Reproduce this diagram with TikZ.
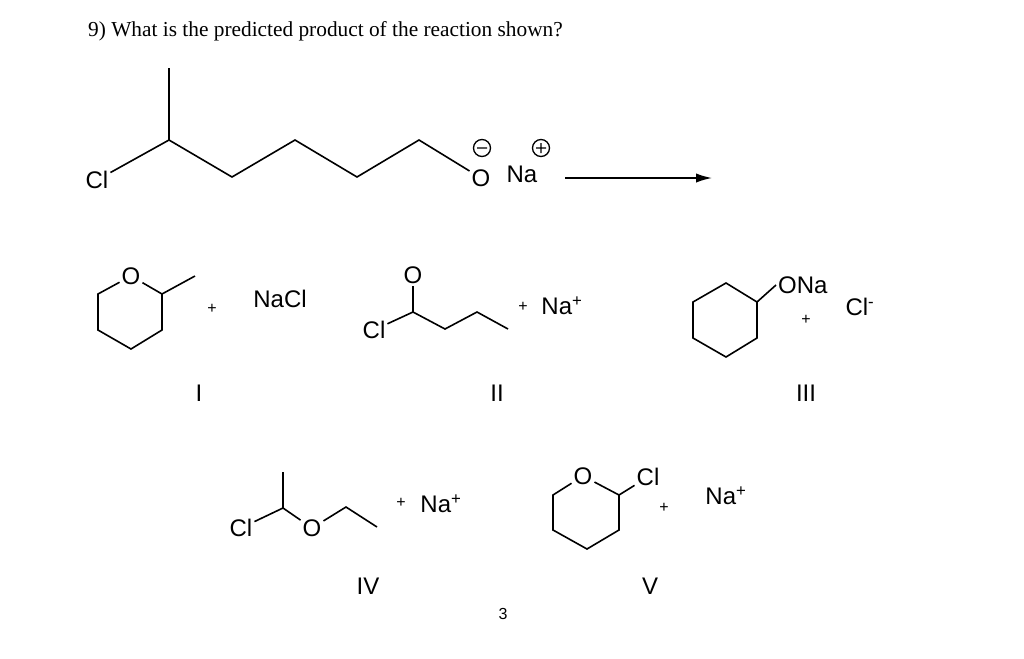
\documentclass[tikz,border=0pt]{standalone}
\usepackage{fontspec}
\usetikzlibrary{arrows.meta}
\setmainfont{Liberation Sans}
\newfontfamily\titlefont{Liberation Serif}
\tikzset{every picture/.style={line width=1.2pt}}
\tikzset{atom/.style={inner sep=1pt, font=\fontsize{18}{20}\selectfont},
  smallplus/.style={font=\fontsize{12}{14}\selectfont},
  numeral/.style={font=\fontsize{18}{20}\selectfont}}
\begin{document}
\begin{tikzpicture}[x=0.75pt,y=0.75pt,yscale=-1,xscale=1]
	\useasboundingbox (0,0) rectangle (1024,658);

	% Text Node
	\node[anchor=west, font=\titlefont\fontsize{16}{18}\selectfont] (title) at (83,31) {9) What is the predicted product of the reaction shown?};

	%Starting material
	\node[atom] (cl0) at (97,180) {Cl};
	\node[atom] (o0) at (481,178) {O};
	\node[atom] (na0) at (522,174) {Na};
	\coordinate (c1) at (169,140); \coordinate (me1) at (169,68);
	\coordinate (c2) at (232,177); \coordinate (c3) at (295,140);
	\coordinate (c4) at (357,177); \coordinate (c5) at (419,140);
	\draw (cl0) -- (c1) -- (c2) -- (c3) -- (c4) -- (c5) -- (o0);
	\draw (c1) -- (me1);
	\draw[line width=1pt] (482,148) circle (8.5) (477,148) -- (487,148);
	\draw[line width=1pt] (541,148) circle (8.5) (536,148) -- (546,148) (541,143) -- (541,153);
	%Arrow
	\coordinate (a1) at (565,178); \coordinate (a2) at (712,178);
	\draw[-{Latex[length=12pt,width=7pt]}] (a1) -- (a2);

	%Answer I
	\node[atom] (o1) at (131,276) {O};
	\coordinate (r1a) at (98,294); \coordinate (r1b) at (98,330);
	\coordinate (r1c) at (131,349); \coordinate (r1d) at (162,330);
	\coordinate (r1e) at (162,294); \coordinate (r1m) at (195,276);
	\draw (o1) -- (r1a) -- (r1b) -- (r1c) -- (r1d) -- (r1e) -- (o1);
	\draw (r1e) -- (r1m);
	\node[smallplus] (p1) at (212,309) {+};
	\node[atom] (nacl) at (280,299) {NaCl};
	\node[numeral] (n1) at (199,393) {I};

	%Answer II
	\node[atom] (o2) at (413,275) {O};
	\node[atom] (cl2) at (374,330) {Cl};
	\coordinate (c21) at (413,312); \coordinate (c22) at (445,329);
	\coordinate (c23) at (477,312); \coordinate (c24) at (508,329);
	\draw (cl2) -- (c21) -- (c22) -- (c23) -- (c24);
	\draw (c21) -- (o2);
	\node[smallplus] (p2) at (523,307) {+};
	\node[atom] (na2) at (562,306) {Na\textsuperscript{+}};
	\node[numeral] (n2) at (497,393) {II};

	%Answer III
	\coordinate (r3a) at (726,283); \coordinate (r3b) at (693,302);
	\coordinate (r3c) at (693,338); \coordinate (r3d) at (726,357);
	\coordinate (r3e) at (757,338); \coordinate (r3f) at (757,302);
	\draw (r3a) -- (r3b) -- (r3c) -- (r3d) -- (r3e) -- (r3f) -- cycle;
	\node[atom, anchor=west] (ona) at (776,285) {ONa};
	\draw (r3f) -- (ona.west);
	\node[smallplus] (p3) at (806,320) {+};
	\node[atom] (cl3) at (860,307) {Cl\textsuperscript{-}};
	\node[numeral] (n3) at (806,393) {III};

	%Answer IV
	\node[atom] (cl4) at (241,528) {Cl};
	\node[atom] (o4) at (312,528) {O};
	\coordinate (c41) at (283,508); \coordinate (me4) at (283,472);
	\coordinate (c42) at (346,507); \coordinate (c43) at (377,527);
	\draw (cl4) -- (c41) -- (o4) -- (c42) -- (c43);
	\draw (c41) -- (me4);
	\node[smallplus] (p4) at (401,503) {+};
	\node[atom] (na4) at (441,504) {Na\textsuperscript{+}};
	\node[numeral] (n4) at (368,586) {IV};

	%Answer V
	\node[atom] (o5) at (583,476) {O};
	\coordinate (r5a) at (553,495); \coordinate (r5b) at (553,530);
	\coordinate (r5c) at (587,549); \coordinate (r5d) at (619,530);
	\coordinate (r5e) at (619,495);
	\node[atom] (cl5) at (648,477) {Cl};
	\draw (o5) -- (r5a) -- (r5b) -- (r5c) -- (r5d) -- (r5e) -- (o5);
	\draw (r5e) -- (cl5);
	\node[smallplus] (p5) at (664,508) {+};
	\node[atom] (na5) at (726,496) {Na\textsuperscript{+}};
	\node[numeral] (n5) at (650,586) {V};

	% Text Node
	\node[font=\fontsize{12}{14}\selectfont] (page) at (503,614) {3};
\end{tikzpicture}
\end{document}
